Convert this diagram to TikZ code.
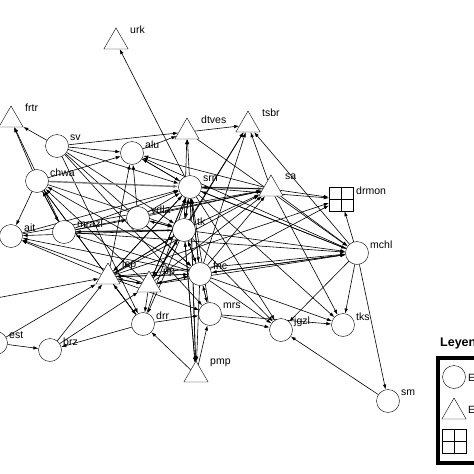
\documentclass[tikz,border=0pt]{standalone}
\usepackage{fontspec}
\setmainfont{Liberation Sans}
\usetikzlibrary{arrows.meta,shapes.geometric,backgrounds}

\begin{document}
\begin{tikzpicture}[x=1pt,y=-1pt,
  lbl/.style={font=\fontsize{10.5}{12}\selectfont, inner sep=1pt, anchor=west},
  cnode/.style={circle, draw, fill=white, minimum size=23pt, inner sep=0pt,
    append after command={([xshift=12pt,yshift=8pt]\tikzlastnode.center) node[lbl] {#1}}},
  tnode/.style={regular polygon, regular polygon sides=3, draw, fill=white,
    minimum size=28pt, inner sep=0pt,
    append after command={([xshift=13pt,yshift=12pt]\tikzlastnode.center) node[lbl] {#1}}},
  qnode/.style={rectangle, draw, fill=white, minimum size=24pt, inner sep=0pt,
    path picture={\draw (path picture bounding box.north) -- (path picture bounding box.south)
      (path picture bounding box.west) -- (path picture bounding box.east);},
    append after command={([xshift=14pt,yshift=8pt]\tikzlastnode.center) node[lbl] {#1}}},
  tie/.style={draw, line width=0.6pt, -{Latex[length=5pt,width=3.5pt]}},
  strong/.style={tie, line width=1.4pt, draw=black!55},
]
  \useasboundingbox (0,0) rectangle (474,474);
  \clip (0,0) rectangle (474,474);

  % circles
  \node[cnode=sv]    (sv)    at (57,146)  {};
  \node[cnode=alu]   (alu)   at (132,153) {};
  \node[cnode=chwa]  (chwa)  at (37,181)  {};
  \node[cnode=srn]   (srn)   at (190,187) {};
  \node[cnode=vdla]  (vdla)  at (138,218) {};
  \node[cnode=tk]    (tk)    at (184,230) {};
  \node[cnode=mrazl] (mrazl) at (64,232)  {};
  \node[cnode=ait]   (ait)   at (11,236)  {};
  \node[cnode=mchl]  (mchl)  at (357,253) {};
  \node[cnode=fnc]   (fnc)   at (200,274) {};
  \node[cnode=mrs]   (mrs)   at (210,314) {};
  \node[cnode=drr]   (drr)   at (143,324) {};
  \node[cnode=jgzl]  (jgzl)  at (281,330) {};
  \node[cnode=tks]   (tks)   at (343,325) {};
  \node[cnode=est]   (est)   at (-4,343)  {};
  \node[cnode=brz]   (brz)   at (50,350)  {};
  \node[cnode=sm]    (sm)    at (388,401) {};
  % triangles
  \node[tnode=urk]   (urk)   at (116,42)  {};
  \node[tnode=frtr]  (frtr)  at (11,120)  {};
  \node[tnode=dtves] (dtves) at (187,132) {};
  \node[tnode=tsbr]  (tsbr)  at (248,125) {};
  \node[tnode=sa]    (sa)    at (271,189) {};
  \node[tnode=lep]   (lep)   at (108,277) {};
  \node[tnode=pp]    (pp)    at (149,285) {};
  \node[tnode=pmp]   (pmp)   at (196,375) {};
  % square
  \node[qnode=drmon] (drmon) at (341,199) {};
  \coordinate (wst) at (-30,303);

  \begin{pgfonlayer}{background}
  % ties from the upper left
  \draw[tie] (srn) -- (urk);
  \draw[tie] (sv) -- (frtr);
  \draw[tie] (chwa) -- (frtr);
  \draw[tie] (mrazl) -- (frtr);
  \draw[tie] (sv) -- (dtves);
  \draw[tie] (sv) -- (alu);
  \draw[tie] (sv) -- (srn);
  \draw[tie] (sv) -- (tk);
  \draw[tie] (sv) -- (fnc);
  \draw[tie] (sv) -- (mrs);
  \draw[tie] (sv) -- (drr);
  \draw[tie] (chwa) -- (alu);
  \draw[strong] (chwa) -- (srn);
  \draw[tie] (chwa) -- (tk);
  \draw[tie] (chwa) -- (ait);
  \draw[tie] (chwa) -- (mrazl);
  \draw[tie] (chwa) -- (drr);
  \draw[tie] (mrazl) -- (chwa);
  \draw[tie] (mrazl) -- (srn);
  \draw[tie] (mrazl) -- (vdla);
  \draw[strong] (mrazl) -- (tk);
  \draw[tie] (mrazl) -- (sa);
  \draw[tie] (mrazl) -- (mchl);
  \draw[tie] (ait) -- (srn);
  \draw[tie] (ait) -- (sa);
  \draw[tie] (alu) -- (dtves);
  \draw[tie] (alu) -- (srn);
  % ties of the top row
  \draw[tie] (dtves) -- (tsbr);
  \draw[tie] (dtves) -- (mchl);
  \draw[tie] (srn) -- (dtves);
  \draw[tie] (srn) -- (alu);
  \draw[strong] (srn) -- (sa);
  \draw[tie] (srn) -- (drmon);
  \draw[tie] (srn) -- (mchl);
  \draw[tie] (srn) -- (tks);
  \draw[tie] (srn) -- (jgzl);
  \draw[tie] (srn) -- (pmp);
  \draw[tie] (srn) -- (fnc);
  \draw[tie] (srn) -- (tk);
  \draw[tie] (srn) -- (lep);
  \draw[tie] (srn) -- (pp);
  \draw[tie] (sa) -- (tsbr);
  \draw[tie] (sa) -- (alu);
  \draw[tie] (sa) -- (srn);
  \draw[tie] (sa) -- (drmon);
  \draw[tie] (sa) -- (mchl);
  \draw[tie] (sa) -- (tks);
  % ties of the middle
  \draw[tie] (vdla) -- (srn);
  \draw[tie] (vdla) -- (tk);
  \draw[tie] (vdla) -- (sa);
  \draw[tie] (vdla) -- (alu);
  \draw[tie] (vdla) -- (fnc);
  \draw[tie] (tk) -- (dtves);
  \draw[tie] (tk) -- (tsbr);
  \draw[tie] (tk) -- (srn);
  \draw[tie] (tk) -- (sa);
  \draw[tie] (tk) -- (mchl);
  \draw[tie] (tk) -- (vdla);
  \draw[tie] (tk) -- (fnc);
  \draw[tie] (tk) -- (pmp);
  \draw[tie] (tk) -- (drr);
  \draw[tie] (tk) -- (jgzl);
  \draw[tie] (tk) -- (ait);
  \draw[tie] (tk) -- (mrazl);
  \draw[tie] (tk) -- (lep);
  \draw[tie] (tk) -- (pp);
  \draw[tie] (fnc) -- (tsbr);
  \draw[tie] (fnc) -- (srn);
  \draw[tie] (fnc) -- (sa);
  \draw[tie] (fnc) -- (drmon);
  \draw[tie] (fnc) -- (mchl);
  \draw[tie] (fnc) -- (tks);
  \draw[tie] (fnc) -- (jgzl);
  \draw[tie] (fnc) -- (mrs);
  \draw[tie] (fnc) -- (pmp);
  \draw[tie] (fnc) -- (tk);
  \draw[tie] (fnc) -- (ait);
  \draw[tie] (fnc) -- (mrazl);
  \draw[tie] (fnc) -- (chwa);
  \draw[tie] (fnc) -- (lep);
  \draw[tie] (fnc) -- (pp);
  % ties of the two triangles
  \draw[tie] (lep) -- (alu);
  \draw[tie] (lep) -- (srn);
  \draw[tie] (lep) -- (sa);
  \draw[tie] (lep) -- (drmon);
  \draw[tie] (lep) -- (mchl);
  \draw[tie] (lep) -- (tk);
  \draw[tie] (lep) -- (fnc);
  \draw[tie] (lep) -- (mrs);
  \draw[tie] (lep) -- (drr);
  \draw[tie] (lep) -- (ait);
  \draw[tie] (lep) -- (chwa);
  \draw[tie] (lep) -- (pp);
  \draw[tie] (pp) -- (tsbr);
  \draw[tie] (pp) -- (srn);
  \draw[tie] (pp) -- (sa);
  \draw[tie] (pp) -- (mchl);
  \draw[tie] (pp) -- (tk);
  \draw[tie] (pp) -- (fnc);
  \draw[tie] (pp) -- (drr);
  \draw[tie] (pp) -- (ait);
  \draw[tie] (pp) -- (chwa);
  \draw[tie] (pp) -- (lep);
  % ties of the right side
  \draw[tie] (mchl) -- (tsbr);
  \draw[tie] (mchl) -- (alu);
  \draw[tie] (mchl) -- (srn);
  \draw[tie] (mchl) -- (drmon);
  \draw[tie] (mchl) -- (fnc);
  \draw[tie] (mchl) -- (tks);
  \draw[tie] (mchl) -- (jgzl);
  \draw[tie] (mchl) -- (sm);
  \draw[tie] (sm) -- (jgzl);
  \draw[tie] (mrs) -- (srn);
  \draw[tie] (mrs) -- (fnc);
  \draw[tie] (mrs) -- (tks);
  \draw[tie] (mrs) -- (jgzl);
  % ties of the bottom
  \draw[tie] (drr) -- (srn);
  \draw[tie] (drr) -- (mrs);
  \draw[tie] (drr) -- (lep);
  \draw[tie] (drr) -- (brz);
  \draw[tie] (pmp) -- (srn);
  \draw[tie] (pmp) -- (tk);
  \draw[tie] (pmp) -- (mrs);
  \draw[tie] (pmp) -- (drr);
  \draw[tie] (brz) -- (lep);
  \draw[tie] (brz) -- (pp);
  \draw[tie] (est) -- (brz);
  \draw[tie] (est) -- (lep);
  \draw[tie] (wst) -- (lep);
  \end{pgfonlayer}

  % legend
  \node[font=\bfseries\fontsize{12.5}{14}\selectfont, anchor=south west, inner sep=0pt]
    (leg) at (440,349) {Leyenda};
  \draw[line width=3.5pt] (438,358) rectangle (490,463);
  \node[circle, draw, minimum size=23pt, inner sep=0pt] (legc) at (454,377) {};
  \node[regular polygon, regular polygon sides=3, draw, minimum size=28pt, inner sep=0pt]
    (legt) at (454,412) {};
  \node[qnode=] (legq) at (454,441) {};
  \node[lbl] (legce) at (467,378) {E};
  \node[lbl] (legte) at (467,410) {E};
\end{tikzpicture}
\end{document}
